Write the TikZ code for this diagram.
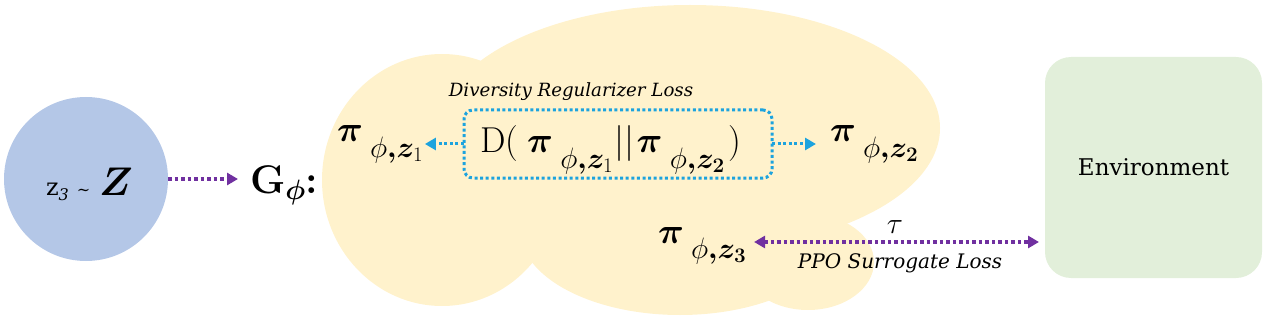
\RequirePackage{fix-cm}
\documentclass[tikz,border=0pt]{standalone}
\usepackage{amsmath}
\usepackage{bm}
\usepackage{graphicx}
\usepackage{fontspec}
\usetikzlibrary{arrows.meta,calc}
\newfontfamily\txtfont{DejaVu Serif}
\definecolor{cloudc}{HTML}{FFF2CC}
\definecolor{zblue}{HTML}{B4C7E7}
\definecolor{envc}{HTML}{E2EFDA}
\definecolor{ppl}{HTML}{7030A0}
\definecolor{bl}{HTML}{1CA3DE}
\newcommand{\pol}[1]{$\boldsymbol{\pi}$\hspace{0.2em}\raisebox{-0.42em}{\scalebox{0.82}{$\phi\boldsymbol{{,}}\boldsymbol{z}_{#1}$}}}
\tikzset{
  purparrow/.style={draw=ppl, line width=3.2pt, dash pattern=on 3.5pt off 3pt,
    -{Triangle[length=11pt,width=12pt]}},
  purpboth/.style={draw=ppl, line width=3.2pt, dash pattern=on 3.5pt off 3pt,
    {Triangle[length=11pt,width=12pt]}-{Triangle[length=11pt,width=12pt]}},
  bluearrow/.style={draw=bl, line width=3pt, dash pattern=on 3pt off 2.6pt,
    -{Triangle[length=11pt,width=12pt]}},
  bluebox/.style={draw=bl, line width=3pt, dash pattern=on 3pt off 2.6pt,
    rounded corners=9pt, minimum width=308pt, minimum height=68pt},
}
\begin{document}
\begin{tikzpicture}[x=1pt,y=1pt, every node/.style={inner sep=0pt, outer sep=0pt}]
\useasboundingbox (0,0) rectangle (1266,-318);
% cloud
\fill[cloudc] (442,-180) ellipse [x radius=120pt, y radius=126pt];
\fill[cloudc] (690,-128) ellipse [x radius=250pt, y radius=123pt];
\fill[cloudc] (680,-230) ellipse [x radius=160pt, y radius=85pt];
\fill[cloudc] (808,-262) ellipse [x radius=66pt, y radius=48pt];
% latent circle
\node[circle, fill=zblue, minimum size=164pt] (zc) at (86,-179) {};
\node[anchor=base west] (zlab) at (46,-195)
  {{\fontsize{24}{24}\selectfont\txtfont z}\raisebox{-5pt}{\fontsize{16}{16}\selectfont\txtfont\itshape 3}\hspace{8pt}%
   {\fontsize{16}{16}\selectfont\txtfont\textasciitilde}\hspace{9pt}%
   {\fontsize{40}{40}\selectfont$\boldsymbol{Z}$}};
% generator
\node[anchor=base west] (gphi) at (250,-193)
  {\fontsize{40}{40}\selectfont\textbf{G}$_{\boldsymbol{\phi}}$\textbf{:}};
% policies
\node[anchor=base west] (pi1) at (337,-142) {\fontsize{36}{36}\selectfont\pol{1}};
\node[anchor=base west] (pi2) at (830,-142) {\fontsize{36}{36}\selectfont\pol{\boldsymbol{2}}};
\node[anchor=base west] (pi3) at (658,-243) {\fontsize{36}{36}\selectfont\pol{\boldsymbol{3}}};
% diversity box
\node[anchor=base] (divl) at (571,-97)
  {\fontsize{18.2}{18.2}\selectfont\txtfont\itshape Diversity Regularizer Loss};
\node[bluebox] (dbox) at (618,-144) {};
\node[anchor=base west] (dtext) at (480,-153)
  {\fontsize{36}{36}\selectfont D(\hspace{0.25em}\pol{1}\hspace{0.05em}$||$\hspace{0.05em}\pol{\boldsymbol{2}}\hspace{0.1em})};
% environment
\node[fill=envc, rounded corners=26pt, minimum width=217pt, minimum height=221pt] (env)
  at (1153.5,-167.5) {\fontsize{23}{23}\selectfont\txtfont Environment};
% connectors
\draw[purparrow, shorten >=12pt] (zc.east) -- (zc.east -| gphi.west);
\draw[bluearrow, shorten >=2pt] (dbox.west) -- (dbox.west -| pi1.east);
\draw[bluearrow, shorten >=14pt] (dbox.east) -- (dbox.east -| pi2.west);
\coordinate (ppoy) at (0,-242);
\draw[purpboth, shorten <=8pt, shorten >=6pt] (pi3.east |- ppoy) -- (env.west |- ppoy);
\node[anchor=base] (tau) at (895,-233) {\fontsize{30}{30}\selectfont$\tau$};
\node[anchor=base] (ppo) at (900,-268)
  {\fontsize{20}{20}\selectfont\txtfont\itshape PPO Surrogate Loss};
\end{tikzpicture}
\end{document}
